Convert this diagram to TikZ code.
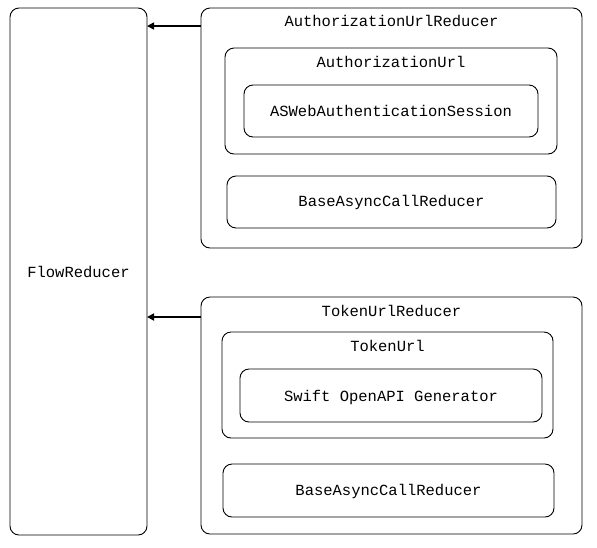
\documentclass[tikz,border=0pt]{standalone}
\usepackage{fontspec}
\setmonofont{Liberation Mono}
\usetikzlibrary{arrows.meta}
\begin{document}
\begin{tikzpicture}[x=1pt,y=-1pt,
  box/.style={draw, line width=0.9pt, rounded corners=9pt, inner sep=0pt, outer sep=0pt, anchor=center},
  lbl/.style={font=\fontsize{15.5}{18}\selectfont\ttfamily, inner sep=0pt, anchor=center},
  arr/.style={line width=1.6pt, -{Triangle[length=7pt,width=7pt]}}]
\useasboundingbox (0,0) rectangle (597,547);
\node[box, minimum width=137pt, minimum height=527pt] (flow) at (78.5,271.5) {};
\node[lbl] (flowt) at (78.5,272) {FlowReducer};
% top group
\node[box, minimum width=381pt, minimum height=240pt] (auth) at (391.5,128) {};
\node[lbl] (autht) at (391.5,21) {AuthorizationUrlReducer};
\node[box, minimum width=332pt, minimum height=106pt] (authurl) at (391,101) {};
\node[lbl] (authurlt) at (391,62) {AuthorizationUrl};
\node[box, minimum width=294pt, minimum height=52pt] (asweb) at (391,111) {};
\node[lbl] (aswebt) at (391,111) {ASWebAuthenticationSession};
\node[box, minimum width=329pt, minimum height=52pt] (base1) at (391.5,202) {};
\node[lbl] (base1t) at (391.5,202) {BaseAsyncCallReducer};
% bottom group
\node[box, minimum width=381pt, minimum height=237pt] (token) at (391.5,415.5) {};
\node[lbl] (tokent) at (391.5,311) {TokenUrlReducer};
\node[box, minimum width=331pt, minimum height=106pt] (tokenurl) at (387.5,385) {};
\node[lbl] (tokenurlt) at (387.5,346) {TokenUrl};
\node[box, minimum width=302pt, minimum height=53pt] (swift) at (391,395.5) {};
\node[lbl] (swiftt) at (391,397) {Swift OpenAPI Generator};
\node[box, minimum width=331pt, minimum height=53pt] (base2) at (388.5,490.5) {};
\node[lbl] (base2t) at (388.5,491) {BaseAsyncCallReducer};
% arrows
\coordinate (y1) at (0,26);
\coordinate (y2) at (0,317);
\draw[arr] (auth.west |- y1) -- (flow.east |- y1);
\draw[arr] (token.west |- y2) -- (flow.east |- y2);
\end{tikzpicture}
\end{document}
